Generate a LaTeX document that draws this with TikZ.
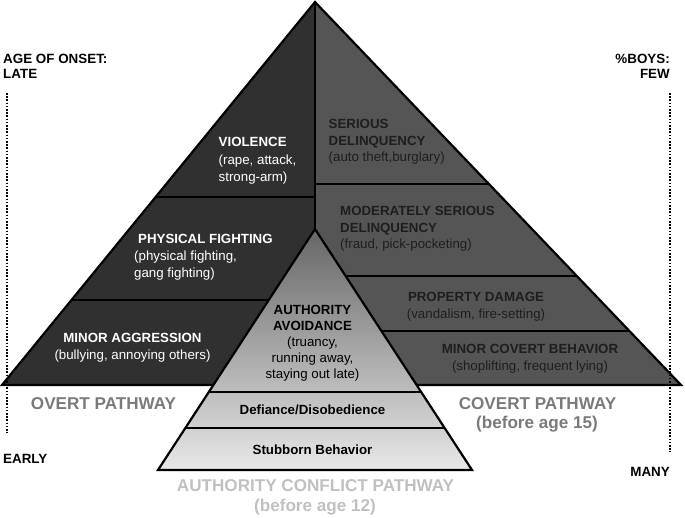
\documentclass[tikz,border=0pt]{standalone}
\usepackage{fontspec}
\setmainfont{Liberation Sans}
\definecolor{overtfill}{HTML}{303030}
\definecolor{covertfill}{HTML}{555555}
\definecolor{innertop}{HTML}{666666}
\definecolor{innerbot}{HTML}{E8E8E8}
\definecolor{covtext}{HTML}{1E1E1E}
\definecolor{headgray}{HTML}{7A7A7A}
\definecolor{headlight}{HTML}{C0C0C0}
\begin{document}
\begin{tikzpicture}[x=1pt,y=-1pt,
  txt/.style={inner sep=0pt, font=\fontsize{13.3}{16}\selectfont},
  bold/.style={txt, font=\fontsize{13.3}{16}\selectfont\bfseries},
  side/.style={inner sep=0pt, font=\fontsize{13.4}{15}\selectfont\bfseries, text=black},
  head/.style={inner sep=0pt, anchor=base, font=\fontsize{17.1}{19}\selectfont\bfseries},
  outline/.style={draw=black, line width=2.2pt, line join=miter},
  divline/.style={draw=black, line width=1.5pt},
  dotline/.style={draw=black, line width=1.6pt, dash pattern=on 1.6pt off 1.6pt}]
\useasboundingbox (0,0) rectangle (685,517);
% key points
\coordinate (A) at (315,2);
\coordinate (BL) at (2,385);
\coordinate (BR) at (681,385);
\coordinate (BM) at (315,385);
\coordinate (I) at (315,229);
\coordinate (L) at (158,470);
\coordinate (R) at (472,470);
% regions
\fill[covertfill] (A) -- (BR) -- (BM) -- cycle;
\fill[overtfill] (A) -- (BM) -- (BL) -- cycle;
\begin{scope}
  \clip (A) -- (BR) -- (BL) -- cycle;
  \draw[divline] (0,197) -- (315,197);
  \draw[divline] (0,300) -- (315,300);
  \draw[divline] (315,184) -- (685,184);
  \draw[divline] (315,276) -- (685,276);
  \draw[divline] (315,331) -- (685,331);
\end{scope}
\draw[divline] (A) -- (I);
\draw[outline] (BL) -- (A) -- (BR) -- cycle;
% inner pyramid
\shade[top color=innertop, bottom color=innerbot] (I) -- (R) -- (L) -- cycle;
\begin{scope}
  \clip (I) -- (R) -- (L) -- cycle;
  \draw[divline] (100,392) -- (520,392);
  \draw[divline] (100,428) -- (520,428);
\end{scope}
\draw[outline] (I) -- (R) -- (L) -- cycle;
% side scales
\coordinate (dl1) at (7,93);
\coordinate (dl2) at (7,433);
\coordinate (dr1) at (670,93);
\coordinate (dr2) at (670,452);
\draw[dotline] (dl1) -- (dl2);
\draw[dotline] (dr1) -- (dr2);
\node[side, anchor=base west] (age1) at (3,63.5) {AGE OF ONSET:};
\node[side, anchor=base west] (age2) at (3,78.5) {LATE};
\node[side, anchor=base west] (early) at (3,463.5) {EARLY};
\node[side, anchor=base east] (boys1) at (670,63.5) {\%BOYS:};
\node[side, anchor=base east] (boys2) at (670,78.5) {FEW};
\node[side, anchor=base east] (many) at (670,476) {MANY};
% overt labels
\node[bold, text=white, anchor=base west] (v1) at (218.5,146) {VIOLENCE};
\node[txt, text=white, anchor=base west] (v2) at (218.5,164) {(rape, attack,};
\node[txt, text=white, anchor=base west] (v3) at (218.5,181.5) {strong-arm)};
\node[bold, text=white, anchor=base west] (p1) at (138,243.5) {PHYSICAL FIGHTING};
\node[txt, text=white, anchor=base west] (p2) at (134,260.5) {(physical fighting,};
\node[txt, text=white, anchor=base west] (p3) at (134,277) {gang fighting)};
\node[bold, text=white, anchor=base] (m1) at (132.5,342.5) {MINOR AGGRESSION};
\node[txt, text=white, anchor=base] (m2) at (132.5,359) {(bullying, annoying others)};
% covert labels
\node[bold, text=covtext, anchor=base west] (s1) at (328.5,128.5) {SERIOUS};
\node[bold, text=covtext, anchor=base west] (s2) at (328.5,145) {DELINQUENCY};
\node[txt, text=covtext, anchor=base west] (s3) at (328.5,161.5) {(auto theft,burglary)};
\node[bold, text=covtext, anchor=base west] (ms1) at (340,215.5) {MODERATELY SERIOUS};
\node[bold, text=covtext, anchor=base west] (ms2) at (340,232) {DELINQUENCY};
\node[txt, text=covtext, anchor=base west] (ms3) at (340,248.5) {(fraud, pick-pocketing)};
\node[bold, text=covtext, anchor=base] (pd1) at (476,301.5) {PROPERTY DAMAGE};
\node[txt, text=covtext, anchor=base] (pd2) at (476,318) {(vandalism, fire-setting)};
\node[bold, text=covtext, anchor=base] (mc1) at (530,353.5) {MINOR COVERT BEHAVIOR};
\node[txt, text=covtext, anchor=base] (mc2) at (530,370) {(shoplifting, frequent lying)};
% inner labels
\node[bold, text=black, anchor=base] (a1) at (312.5,314.5) {AUTHORITY};
\node[bold, text=black, anchor=base] (a2) at (312.5,330.5) {AVOIDANCE};
\node[txt, text=black, anchor=base] (a3) at (312.5,346.5) {(truancy,};
\node[txt, text=black, anchor=base] (a4) at (312.5,362.5) {running away,};
\node[txt, text=black, anchor=base] (a5) at (312.5,378.5) {staying out late)};
\node[bold, text=black, anchor=base] (dd) at (312.5,414) {Defiance/Disobedience};
\node[bold, text=black, anchor=base] (sb) at (312.5,454) {Stubborn Behavior};
% pathway headings
\node[head, text=headgray] (op) at (103.5,409.5) {OVERT PATHWAY};
\node[head, text=headgray] (cp1) at (537.5,409.5) {COVERT PATHWAY};
\node[head, text=headgray] (cp2) at (537,428.5) {(before age 15)};
\node[head, text=headlight] (ap1) at (315.5,491) {AUTHORITY CONFLICT PATHWAY};
\node[head, text=headlight] (ap2) at (315,511) {(before age 12)};
\end{tikzpicture}
\end{document}
